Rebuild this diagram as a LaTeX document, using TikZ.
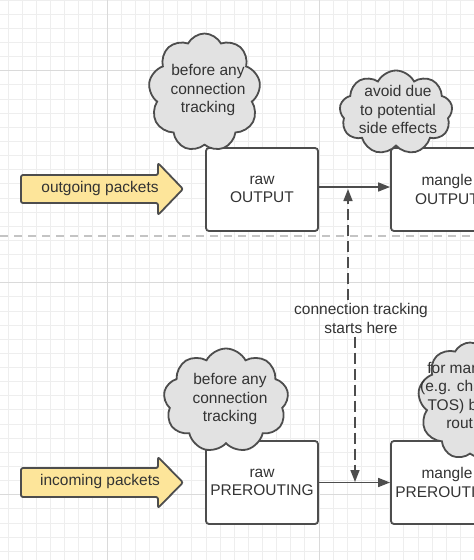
\documentclass[tikz,border=0pt]{standalone}
\usepackage{fontspec}
\setmainfont{Liberation Sans}
\usetikzlibrary{shapes.symbols,arrows.meta}
\definecolor{edge}{HTML}{4D4D4D}
\definecolor{txt}{HTML}{333333}
\definecolor{cloudfill}{HTML}{E2E2E2}
\definecolor{yel}{HTML}{FDE59A}
\definecolor{minorg}{HTML}{EEEEEE}
\definecolor{majorg}{HTML}{DADADA}
\definecolor{sepg}{HTML}{C4C4C4}
\begin{document}
\begin{tikzpicture}[x=1pt,y=-1pt,
  font=\fontsize{15.5}{18.6}\selectfont, text=txt,
  box/.style={draw=edge,line width=1.8pt,rounded corners=3pt,fill=white,
    minimum width=112pt,minimum height=83pt,align=center,inner sep=0pt},
  cloudbox/.style={cloud,cloud puffs=9,cloud puff arc=125,cloud ignores aspect,
    draw=edge,line width=1.8pt,fill=cloudfill,inner sep=0pt},
  lbl/.style={align=center,inner sep=0pt},
  conn/.style={draw=edge,line width=1.5pt,-{Triangle[length=12pt,width=9pt]}},
  dashconn/.style={conn,dash pattern=on 11pt off 5pt},
  yarrow/.style={draw=edge,line width=1.8pt,fill=yel,rounded corners=2pt,line join=round},
  minorline/.style={draw=minorg,line width=0.8pt},
  majorline/.style={draw=majorg,line width=0.9pt},
  sepline/.style={draw=sepg,line width=1.3pt,dash pattern=on 8pt off 6pt}
  ]
\useasboundingbox (0,0) rectangle (474,560);
\clip (0,0) rectangle (474,560);
\fill[white] (0,0) rectangle (474,560);
% grid
\foreach \i in {-8,...,27}{
  \path[minorline] ({107+14.133*\i},0) -- ({107+14.133*\i},560);}
\foreach \i in {-5,...,35}{
  \path[minorline] (0,{70.7+14.133*\i}) -- (474,{70.7+14.133*\i});}
\foreach \x in {107,319}{\path[majorline] (\x,0) -- (\x,560);}
\foreach \y in {70.7,282.7,494.7}{\path[majorline] (0,\y) -- (474,\y);}
% separator
\path[sepline] (0,236) -- (474,236);

% yellow arrows
\path[yarrow] (21,175) -- (158,175) -- (158,163) -- (183,189) -- (158,215) -- (158,203) -- (21,203) -- cycle;
\node[lbl] (outpk) at (100,188.5) {outgoing packets};
\path[yarrow] (21,468) -- (158,468) -- (158,457) -- (183,482.5) -- (158,508) -- (158,497) -- (21,497) -- cycle;
\node[lbl] (inpk) at (100,481.5) {incoming packets};

% boxes
\node[box] (rawout) at (262,189.5) {raw\\OUTPUT};
\node[box] (mangout) at (447,189.5) {mangle\\OUTPUT};
\node[box] (rawpre) at (262,482.5) {raw\\PREROUTING};
\node[box] (mangpre) at (447,482.5) {mangle\\PREROUTING};

% connectors
\draw[conn] ([yshift=2.5pt]rawout.east) -- ([yshift=2.5pt]mangout.west);
\draw[conn] (rawpre.east) -- (mangpre.west);

% connection tracking label
\node[lbl] (ct) at (361,318.5) {connection tracking\\starts here};
\coordinate (upend) at (348,189);
\coordinate (downend) at (355,482);
\draw[dashconn] ([yshift=3pt]upend |- ct.north) -- (upend);
\draw[dashconn] ([yshift=-3pt]downend |- ct.south) -- (downend);

% clouds
\node[cloudbox,minimum width=112pt,minimum height=118pt] (c1) at (204.5,92.5) {};
\node[lbl] (c1t) at (208,90) {before any\\connection\\tracking};
\node[cloudbox,minimum width=113pt,minimum height=84pt] (c2) at (396,112.5) {};
\node[lbl] (c2t) at (398,109.5) {avoid due\\to potential\\side effects};
\node[cloudbox,minimum width=125pt,minimum height=104pt] (c3) at (226,400.5) {};
\node[lbl] (c3t) at (230,399) {before any\\connection\\tracking};
\node[cloudbox,minimum width=104pt,minimum height=117pt] (c4) at (470,401) {};
\node[lbl] (c4t) at (470,397) {for mangling\\(e.g. changing\\TOS) before\\routing};
\end{tikzpicture}
\end{document}
